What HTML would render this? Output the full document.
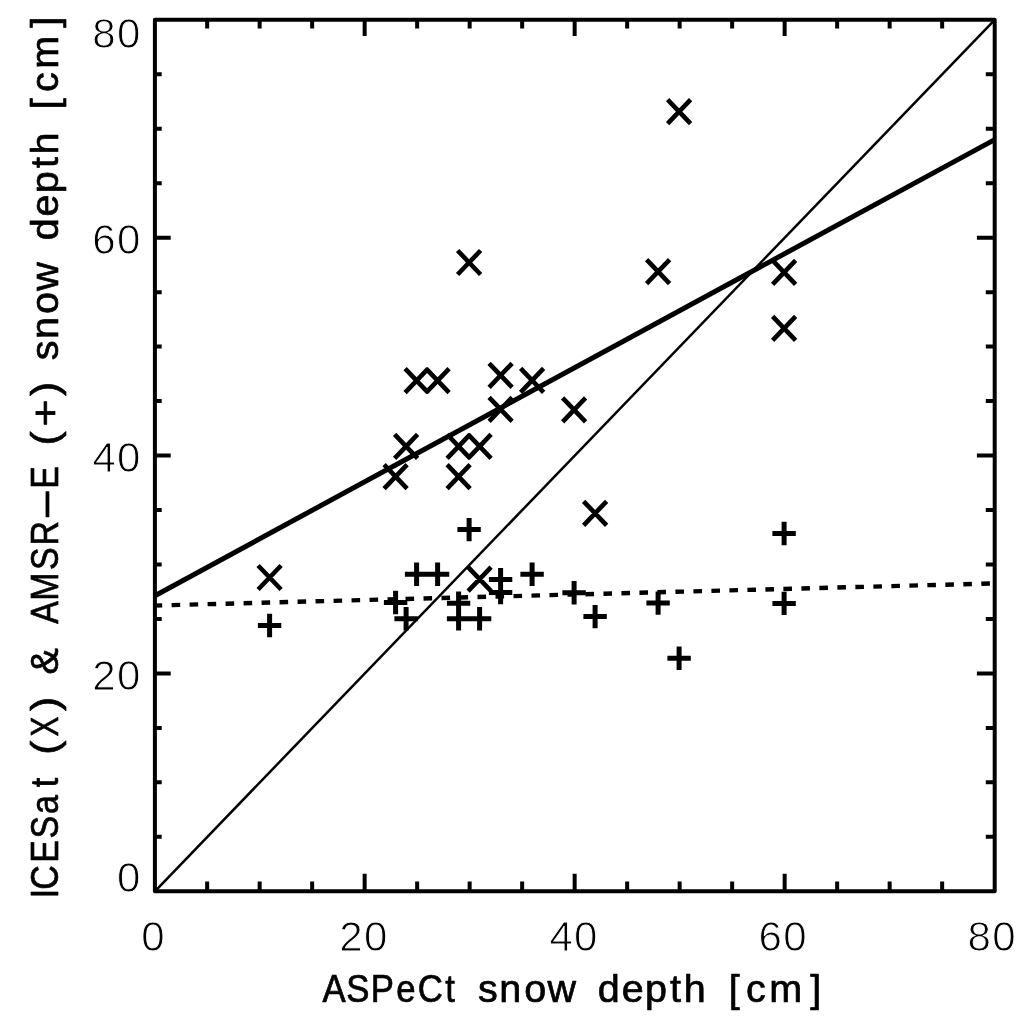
<!DOCTYPE html>
<html lang="en"><head><meta charset="utf-8"><title>ASPeCt snow depth vs ICESat and AMSR-E snow depth</title>
<style>
html,body{margin:0;padding:0;background:#ffffff;}
body{width:1024px;height:1027px;overflow:hidden;}
svg{display:block;}
text{font-family:"Liberation Sans","DejaVu Sans",sans-serif;fill:#000;white-space:pre;}
.tk{font-size:42px;stroke:#fff;stroke-width:0.9px;}
.tt{font-size:39.5px;stroke:#000;stroke-width:0.7px;stroke-linejoin:round;}
.ax{stroke:#000;stroke-width:4;fill:none;}
.mx{stroke:#000;stroke-width:4.6;fill:none;}
.mp{stroke:#000;stroke-width:5;fill:none;}
</style></head><body>
<svg width="1024" height="1027" viewBox="0 0 1024 1027">
<rect x="0" y="0" width="1024" height="1027" fill="#ffffff"/>
<line x1="154.9" y1="891.3" x2="994.7" y2="19.8" stroke="#000" stroke-width="2.5"/>
<line x1="154.9" y1="595.7" x2="994.7" y2="139.6" stroke="#000" stroke-width="5"/>
<line x1="153.6" y1="605.6" x2="990" y2="583.5" stroke="#000" stroke-width="4.4" stroke-dasharray="8.6 9.4"/>
<path class="mx" d="M258.1 565.5L281.1 589.5M258.1 589.5L281.1 565.5M384.1 464.7L407.1 488.7M384.1 488.7L407.1 464.7M394.6 434.4L417.6 458.4M394.6 458.4L417.6 434.4M405.1 368.6L428.1 392.6M405.1 392.6L428.1 368.6M426.1 368.6L449.1 392.6M426.1 392.6L449.1 368.6M447.1 434.4L470.1 458.4M447.1 458.4L470.1 434.4M447.1 464.7L470.1 488.7M447.1 488.7L470.1 464.7M457.6 250.5L480.6 274.5M457.6 274.5L480.6 250.5M468.1 434.4L491.1 458.4M468.1 458.4L491.1 434.4M468.1 567.1L491.1 591.1M468.1 591.1L491.1 567.1M489.1 363.3L512.1 387.3M489.1 387.3L512.1 363.3M489.1 397.3L512.1 421.3M489.1 421.3L512.1 397.3M520.6 368.4L543.6 392.4M520.6 392.4L543.6 368.4M562.6 397.8L585.6 421.8M562.6 421.8L585.6 397.8M583.6 501.3L606.6 525.3M583.6 525.3L606.6 501.3M646.6 259.7L669.6 283.7M646.6 283.7L669.6 259.7M667.6 99.6L690.6 123.6M667.6 123.6L690.6 99.6M772.6 260.3L795.6 284.3M772.6 284.3L795.6 260.3M772.6 316.3L795.6 340.3M772.6 340.3L795.6 316.3"/>
<path class="mp" d="M257.9 625.5H281.3M269.6 613.8V637.2M383.9 602.5H407.3M395.6 590.8V614.2M394.4 618.8H417.8M406.1 607.0V630.5M404.9 574.2H428.3M416.6 562.5V585.9M425.9 574.2H449.3M437.6 562.5V585.9M446.9 603.2H470.3M458.6 591.5V614.9M446.9 618.8H470.3M458.6 607.0V630.5M457.4 529.6H480.8M469.1 517.9V541.3M467.9 618.8H491.3M479.6 607.0V630.5M488.9 579.6H512.3M500.6 567.9V591.3M488.9 592.5H512.3M500.6 580.8V604.2M520.4 574.2H543.8M532.1 562.5V585.9M562.4 592.8H585.8M574.1 581.1V604.5M583.4 616.6H606.8M595.1 604.9V628.3M646.4 603.1H669.8M658.1 591.4V614.8M667.4 658.3H690.8M679.1 646.6V670.0M772.4 533.5H795.8M784.1 521.8V545.2M772.4 603.4H795.8M784.1 591.7V615.1"/>
<path class="ax" stroke-linejoin="round" d="M154.9 19.8H994.7V891.3H154.9Z"/>
<path class="ax" d="M207.15 891.3V881.5M207.15 19.8V28.4M154.9 836.83H161.7M994.7 836.83H985.8M259.65 891.3V881.5M259.65 19.8V28.4M154.9 782.36H161.7M994.7 782.36H985.8M312.15 891.3V881.5M312.15 19.8V28.4M154.9 727.89H161.7M994.7 727.89H985.8M364.65 891.3V873.7M364.65 19.8V36.1M154.9 673.42H170.7M994.7 673.42H976.9M417.15 891.3V881.5M417.15 19.8V28.4M154.9 618.96H161.7M994.7 618.96H985.8M469.65 891.3V881.5M469.65 19.8V28.4M154.9 564.49H161.7M994.7 564.49H985.8M522.15 891.3V881.5M522.15 19.8V28.4M154.9 510.02H161.7M994.7 510.02H985.8M574.65 891.3V873.7M574.65 19.8V36.1M154.9 455.55H170.7M994.7 455.55H976.9M627.15 891.3V881.5M627.15 19.8V28.4M154.9 401.08H161.7M994.7 401.08H985.8M679.65 891.3V881.5M679.65 19.8V28.4M154.9 346.61H161.7M994.7 346.61H985.8M732.15 891.3V881.5M732.15 19.8V28.4M154.9 292.14H161.7M994.7 292.14H985.8M784.65 891.3V873.7M784.65 19.8V36.1M154.9 237.67H170.7M994.7 237.67H976.9M837.15 891.3V881.5M837.15 19.8V28.4M154.9 183.21H161.7M994.7 183.21H985.8M889.65 891.3V881.5M889.65 19.8V28.4M154.9 128.74H161.7M994.7 128.74H985.8M942.15 891.3V881.5M942.15 19.8V28.4M154.9 74.27H161.7M994.7 74.27H985.8"/>
<text class="tk" transform="translate(141.29 950.9) scale(1.0 1)" x="0.00" y="0">0</text>
<text class="tk" transform="translate(339.30 950.9) scale(1.0 1)" x="0.00 24.65" y="0">20</text>
<text class="tk" transform="translate(549.50 950.9) scale(1.0 1)" x="0.00 24.54" y="0">40</text>
<text class="tk" transform="translate(758.44 950.9) scale(1.0 1)" x="0.00 24.81" y="0">60</text>
<text class="tk" transform="translate(967.50 950.9) scale(1.0 1)" x="0.00 24.65" y="0">80</text>
<text class="tk" transform="translate(92.30 48.0) scale(1.0 1)" x="0.00 24.65" y="0">80</text>
<text class="tk" transform="translate(92.14 254.3) scale(1.0 1)" x="0.00 24.81" y="0">60</text>
<text class="tk" transform="translate(92.40 472.0) scale(1.0 1)" x="0.00 24.54" y="0">40</text>
<text class="tk" transform="translate(92.30 689.9) scale(1.0 1)" x="0.00 24.65" y="0">20</text>
<text class="tk" transform="translate(116.94 891.9) scale(1.0 1)" x="0.00" y="0">0</text>
<text class="tt" transform="translate(322.50 1001.6) scale(0.88 1)" x="0.00 27.09 54.86 83.93 108.26 139.37" y="0">ASPeCt</text>
<text class="tt" transform="translate(477.97 1001.6) scale(1.0 1)" x="0.00 21.22 46.22 69.51" y="0">snow</text>
<text class="tt" transform="translate(597.83 1001.6) scale(1.0 1)" x="0.00 23.81 47.11 72.24 85.81" y="0">depth</text>
<text class="tt" transform="translate(728.74 1001.6) scale(1.0 1)" x="0.00 17.39 40.57 81.52" y="0">[cm]</text>
<g transform="rotate(-90)">
<text class="tt" transform="translate(-898.31 58.2) scale(0.86 1)" x="0.00 9.85 41.27 69.56 98.10 129.15" y="0">ICESat</text>
<text class="tt" transform="translate(-754.77 58.2) scale(1.0 1)" x="0.00 18.35 43.85" y="0"><tspan textLength="14.21" lengthAdjust="spacingAndGlyphs">(</tspan><tspan textLength="19.82" lengthAdjust="spacingAndGlyphs">X</tspan><tspan textLength="14.21" lengthAdjust="spacingAndGlyphs">)</tspan></text>
<text class="tt" transform="translate(-674.38 58.2) scale(1.0 1)" x="0.00" y="0">&amp;</text>
<text class="tt" transform="translate(-623.84 58.2) scale(0.86 1)" x="0.00 26.74 62.49 91.13 119.86 157.12" y="0">AMSR<tspan textLength="38.32" lengthAdjust="spacingAndGlyphs">-</tspan>E</text>
<text class="tt" transform="translate(-445.57 58.2) scale(1.0 1)" x="0.00 19.00 49.65" y="0"><tspan textLength="14.21" lengthAdjust="spacingAndGlyphs">(</tspan><tspan textLength="27.09" lengthAdjust="spacingAndGlyphs">+</tspan><tspan textLength="14.21" lengthAdjust="spacingAndGlyphs">)</tspan></text>
<text class="tt" transform="translate(-360.13 58.2) scale(1.0 1)" x="0.00 21.22 46.22 69.51" y="0">snow</text>
<text class="tt" transform="translate(-240.27 58.2) scale(1.0 1)" x="0.00 23.81 47.11 72.24 85.81" y="0">depth</text>
<text class="tt" transform="translate(-109.36 58.2) scale(1.0 1)" x="0.00 17.39 40.57 81.52" y="0">[cm]</text>
</g>
</svg></body></html>
